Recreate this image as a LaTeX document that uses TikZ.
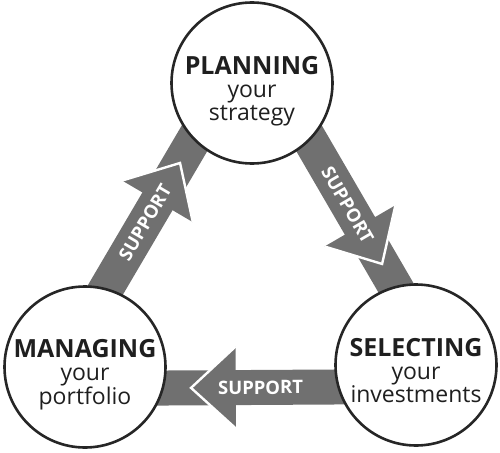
\documentclass[tikz,border=0pt]{standalone}
\usepackage{fontspec}
\setmainfont{Open Sans}
\usetikzlibrary{calc,backgrounds}

\definecolor{arrowgray}{gray}{0.44}
\definecolor{ringgray}{gray}{0.15}

\begin{document}
\begin{tikzpicture}[
    x=1pt, y=-1pt,
    stage/.style={draw=ringgray, fill=white, circle, line width=2.6pt, minimum size=161pt, inner sep=0pt},
    stagetext/.style={align=center, text=black!88, text depth=6pt, font=\fontsize{23}{23}\selectfont},
    shaft/.style={draw=arrowgray, line width=35pt},
    head/.style={fill=arrowgray},
    headedge/.style={draw=white, line width=2.4pt, line join=miter},
    tag/.style={text=white, font=\fontsize{18.5}{19}\selectfont\bfseries, inner sep=0pt}
]
    \useasboundingbox (0,0) rectangle (500,452);

    \node [stage] (plan) at (252, 83) {};
    \node [stage] (man) at (85, 367) {};
    \node [stage] (sel) at (416, 365) {};

    \node [stagetext] (plan-txt) at ([yshift=-8pt]plan.center) {{\fontsize{25}{23}\selectfont\bfseries PLANNING}\\your\\strategy};
    \node [stagetext] (man-txt) at ([yshift=-8pt]man.center) {{\fontsize{25}{23}\selectfont\bfseries MANAGING}\\your\\portfolio};
    \node [stagetext] (sel-txt) at ([yshift=-8pt]sel.center) {{\fontsize{25}{23}\selectfont\bfseries SELECTING}\\your\\investments};

    % support arrows, under the circles
    \begin{scope}[on background layer]
    \foreach \from/\to in {man/plan, plan/sel, sel/man} {
        \coordinate (\from-s) at ($(\from.center)!21.5pt!90:(\to.center)$);
        \coordinate (\from-e) at ($(\to.center)!21.5pt!-90:(\from.center)$);
        \coordinate (\from-tip) at ($(\from-s)!0.68!(\from-e)$);
        \coordinate (\from-back) at ($(\from-s)!0.545!(\from-e)$);
        \coordinate (\from-l) at ($(\from-back)!41pt!90:(\from-tip)$);
        \coordinate (\from-r) at ($(\from-back)!41pt!-90:(\from-tip)$);
        \draw [shaft] (\from-s) -- (\from-e);
        \fill [head] (\from-tip) -- (\from-l) -- (\from-r) -- cycle;
        \draw [headedge] (\from-l) -- (\from-tip) -- (\from-r);
        \path (\from-s) -- (\from-e) node [tag, pos=0.47, sloped] (\from-tag) {SUPPORT};
    }
    \end{scope}

\end{tikzpicture}
\end{document}
